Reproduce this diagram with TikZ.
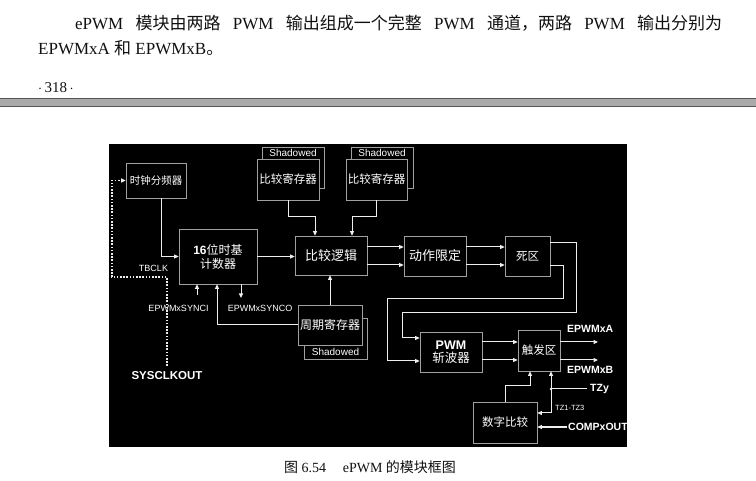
\documentclass[tikz,border=0pt]{standalone}
\usepackage{fontspec}
\setmainfont{Liberation Serif}
\setsansfont{Liberation Sans}
\newfontfamily\cjk{Noto Sans CJK SC}
\usetikzlibrary{arrows.meta}
\newcommand\zh[1]{{\cjk #1}}
\definecolor{boxgray}{HTML}{A0A0A0}
\definecolor{wirecol}{HTML}{EEEEEE}
\definecolor{bargray}{HTML}{AAAAAA}
\definecolor{bardark}{HTML}{555555}
\definecolor{inkcol}{HTML}{111111}
\begin{document}
\begin{tikzpicture}[x=1pt,y=-1pt,
  box/.style={draw=boxgray, line width=0.7pt, fill=black, text=white, inner sep=0pt, align=center},
  zhfont/.style={font=\cjk\fontsize{#1}{#1}\selectfont},
  wire/.style={draw=wirecol, line width=1pt},
  arr/.style={wire, -{Triangle[length=4.5pt,width=4pt]}},
  dotline/.style={draw=wirecol, line width=1.6pt, dash pattern=on 1.6pt off 1.6pt, -{Triangle[length=4.5pt,width=4pt]}},
  lab/.style={text=white, inner sep=0pt, font=\sffamily\fontsize{9}{10}\selectfont},
  blab/.style={text=white, inner sep=0pt, font=\sffamily\bfseries\fontsize{10.5}{12}\selectfont},
  page/.style={text=inkcol, inner sep=0pt}
]
\useasboundingbox (0,0) rectangle (756,481);
\fill[white] (0,0) rectangle (756,481);

% ---- page text ----
\node[page, anchor=base west, font=\fontsize{17}{19}\selectfont] (t1) at (75,30)
  {\hbox to 647pt{ePWM\hfill\zh{模块由两路}\hfill PWM\hfill\zh{输出组成一个完整}\hfill PWM\hfill\zh{通道，两路}\hfill PWM\hfill\zh{输出分别为}}};
\node[page, anchor=base west, font=\fontsize{17}{19}\selectfont] (t2) at (38,55)
  {EPWMxA \zh{和} EPWMxB\zh{。}};
\node[page, anchor=base west, font=\fontsize{15}{17}\selectfont] (pg) at (38,93) {$\cdot$\,318\,$\cdot$};
\draw[bardark, line width=1pt, fill=bargray] (-1,99) rectangle (757,107);
\node[page, anchor=base, font=\fontsize{14}{16}\selectfont] (cap) at (370,472)
  {\zh{图} 6.54\hspace{1.2em}ePWM \zh{的模块框图}};

% ---- panel ----
\fill[black] (109,144) rectangle (627,447);

% shadow (back) boxes
\node[box, minimum width=62, minimum height=41] (s1) at (293,167.5) {};
\node[lab, font=\sffamily\fontsize{10}{11}\selectfont] (s1t) at ([yshift=-6.5]s1.north) {Shadowed};
\node[box, minimum width=62, minimum height=41] (s2) at (382,167.5) {};
\node[lab, font=\sffamily\fontsize{10}{11}\selectfont] (s2t) at ([yshift=-6.5]s2.north) {Shadowed};
\node[box, minimum width=63, minimum height=41] (s3) at (335.5,338.5) {};
\node[lab, font=\sffamily\fontsize{10}{11}\selectfont] (s3t) at ([yshift=7]s3.south) {Shadowed};

% main boxes
\node[box, zhfont=10.5, minimum width=60, minimum height=35] (clk) at (156,180.5) {时钟分频器};
\node[box, zhfont=11.5, minimum width=62, minimum height=41] (cmp1) at (288,179.5) {比较寄存器};
\node[box, zhfont=11.5, minimum width=61, minimum height=41] (cmp2) at (376.5,179.5) {比较寄存器};
\node[box, zhfont=12, minimum width=78, minimum height=55] (tb) at (218,256.5)
  {{\sffamily\bfseries 16}位时基\\[2pt]计数器};
\node[box, zhfont=13, minimum width=72, minimum height=39] (logic) at (331,255.5) {比较逻辑};
\node[box, zhfont=13, minimum width=62, minimum height=40] (aq) at (435,256) {动作限定};
\node[box, zhfont=11.5, minimum width=45, minimum height=40] (db) at (527.5,256) {死区};
\node[box, zhfont=12, minimum width=64, minimum height=40] (per) at (330,325) {周期寄存器};
\node[box, zhfont=12.5, minimum width=62, minimum height=40] (pc) at (451,352)
  {{\sffamily\bfseries PWM}\\[1pt]斩波器};
\node[box, zhfont=11.5, minimum width=42, minimum height=41] (tz) at (539,350.5) {触发区};
\node[box, zhfont=11.5, minimum width=64, minimum height=41] (dc) at (505,422.5) {数字比较};

% free-end coordinates
\coordinate (sys) at (167,366);
\coordinate (d1) at (167,277);
\coordinate (d2) at (112,277);
\coordinate (synci) at (197,295);
\coordinate (synco) at (241,298);
\coordinate (outA) at (598,342);
\coordinate (outB) at (598,360);
\coordinate (tzy) at (587,389);
\coordinate (jn) at (551,389);
\coordinate (comp) at (567,427);

% labels
\node[lab] (ltbclk) at (153.5,268) {TBCLK};
\node[lab] (lsynci) at (178.5,308) {EPWMxSYNCI};
\node[lab] (lsynco) at (260,308) {EPWMxSYNCO};
\node[blab, font=\sffamily\bfseries\fontsize{11.5}{13}\selectfont] (lsys) at (167,376) {SYSCLKOUT};
\node[blab, anchor=west] (lA) at (567,329) {EPWMxA};
\node[blab, anchor=west] (lB) at (567,370) {EPWMxB};
\node[blab, anchor=west] (ltzy) at (590,389) {TZy};
\node[lab, anchor=west, font=\sffamily\fontsize{7.5}{9}\selectfont] (ltz13) at (555,408) {TZ1-TZ3};
\node[blab, anchor=west] (lcomp) at (568,427) {COMPxOUT};

% connectors
\draw[dotline] (sys) -- (d1) -- (d2) |- (clk.west);
\draw[arr] ([xshift=5]clk.south) |- (tb.west);
\draw[arr] (tb.east) -- (tb.east -| logic.west);
\draw[arr] (cmp1.south) |- (315,217) -- ([xshift=-16]logic.north);
\draw[arr] (cmp2.south) |- (352,217) -- ([xshift=21]logic.north);
\draw[arr] ([yshift=8.5]logic.east) -- ([yshift=8.5]logic.east -| aq.west);
\draw[arr] ([yshift=-9.5]logic.east) -- ([yshift=-9.5]logic.east -| aq.west);
\draw[arr] ([yshift=9]aq.east) -- ([yshift=9]aq.east -| db.west);
\draw[arr] ([yshift=-9]aq.east) -- ([yshift=-9]aq.east -| db.west);
\draw[arr] ([yshift=13]db.east) -- (576,243) -- (576,313) -- (402,313) |- ([yshift=14]pc.west);
\draw[arr] ([yshift=-10]db.east) -- (563,266) -- (563,299) -- (387,299) |- ([yshift=-9]pc.west);
\draw[arr] ([yshift=10]pc.east) -- ([yshift=10]pc.east -| tz.west);
\draw[arr] ([yshift=-8]pc.east) -- ([yshift=-8]pc.east -| tz.west);
\draw[arr] ([yshift=8.5]tz.east) -- (outA);
\draw[arr] ([yshift=-9.5]tz.east) -- (outB);
\draw[arr] (dc.north) |- (530,386) -- ([xshift=-9]tz.south);
\draw[arr] (tzy) -- (jn) -- (jn |- tz.south);
\draw[arr] (jn) |- ([yshift=9.5]dc.east);
\fill[wirecol] (jn) circle (1.3);
\draw[arr] (comp) -- (comp -| dc.east);
\draw[arr] (per.north) -- (per.north |- logic.south);
\draw[arr] (per.west) -| ([xshift=-1]tb.south);
\draw[arr] (synci) -- (synci |- tb.south);
\draw[arr] (synco |- tb.south) -- (synco);
\end{tikzpicture}
\end{document}
